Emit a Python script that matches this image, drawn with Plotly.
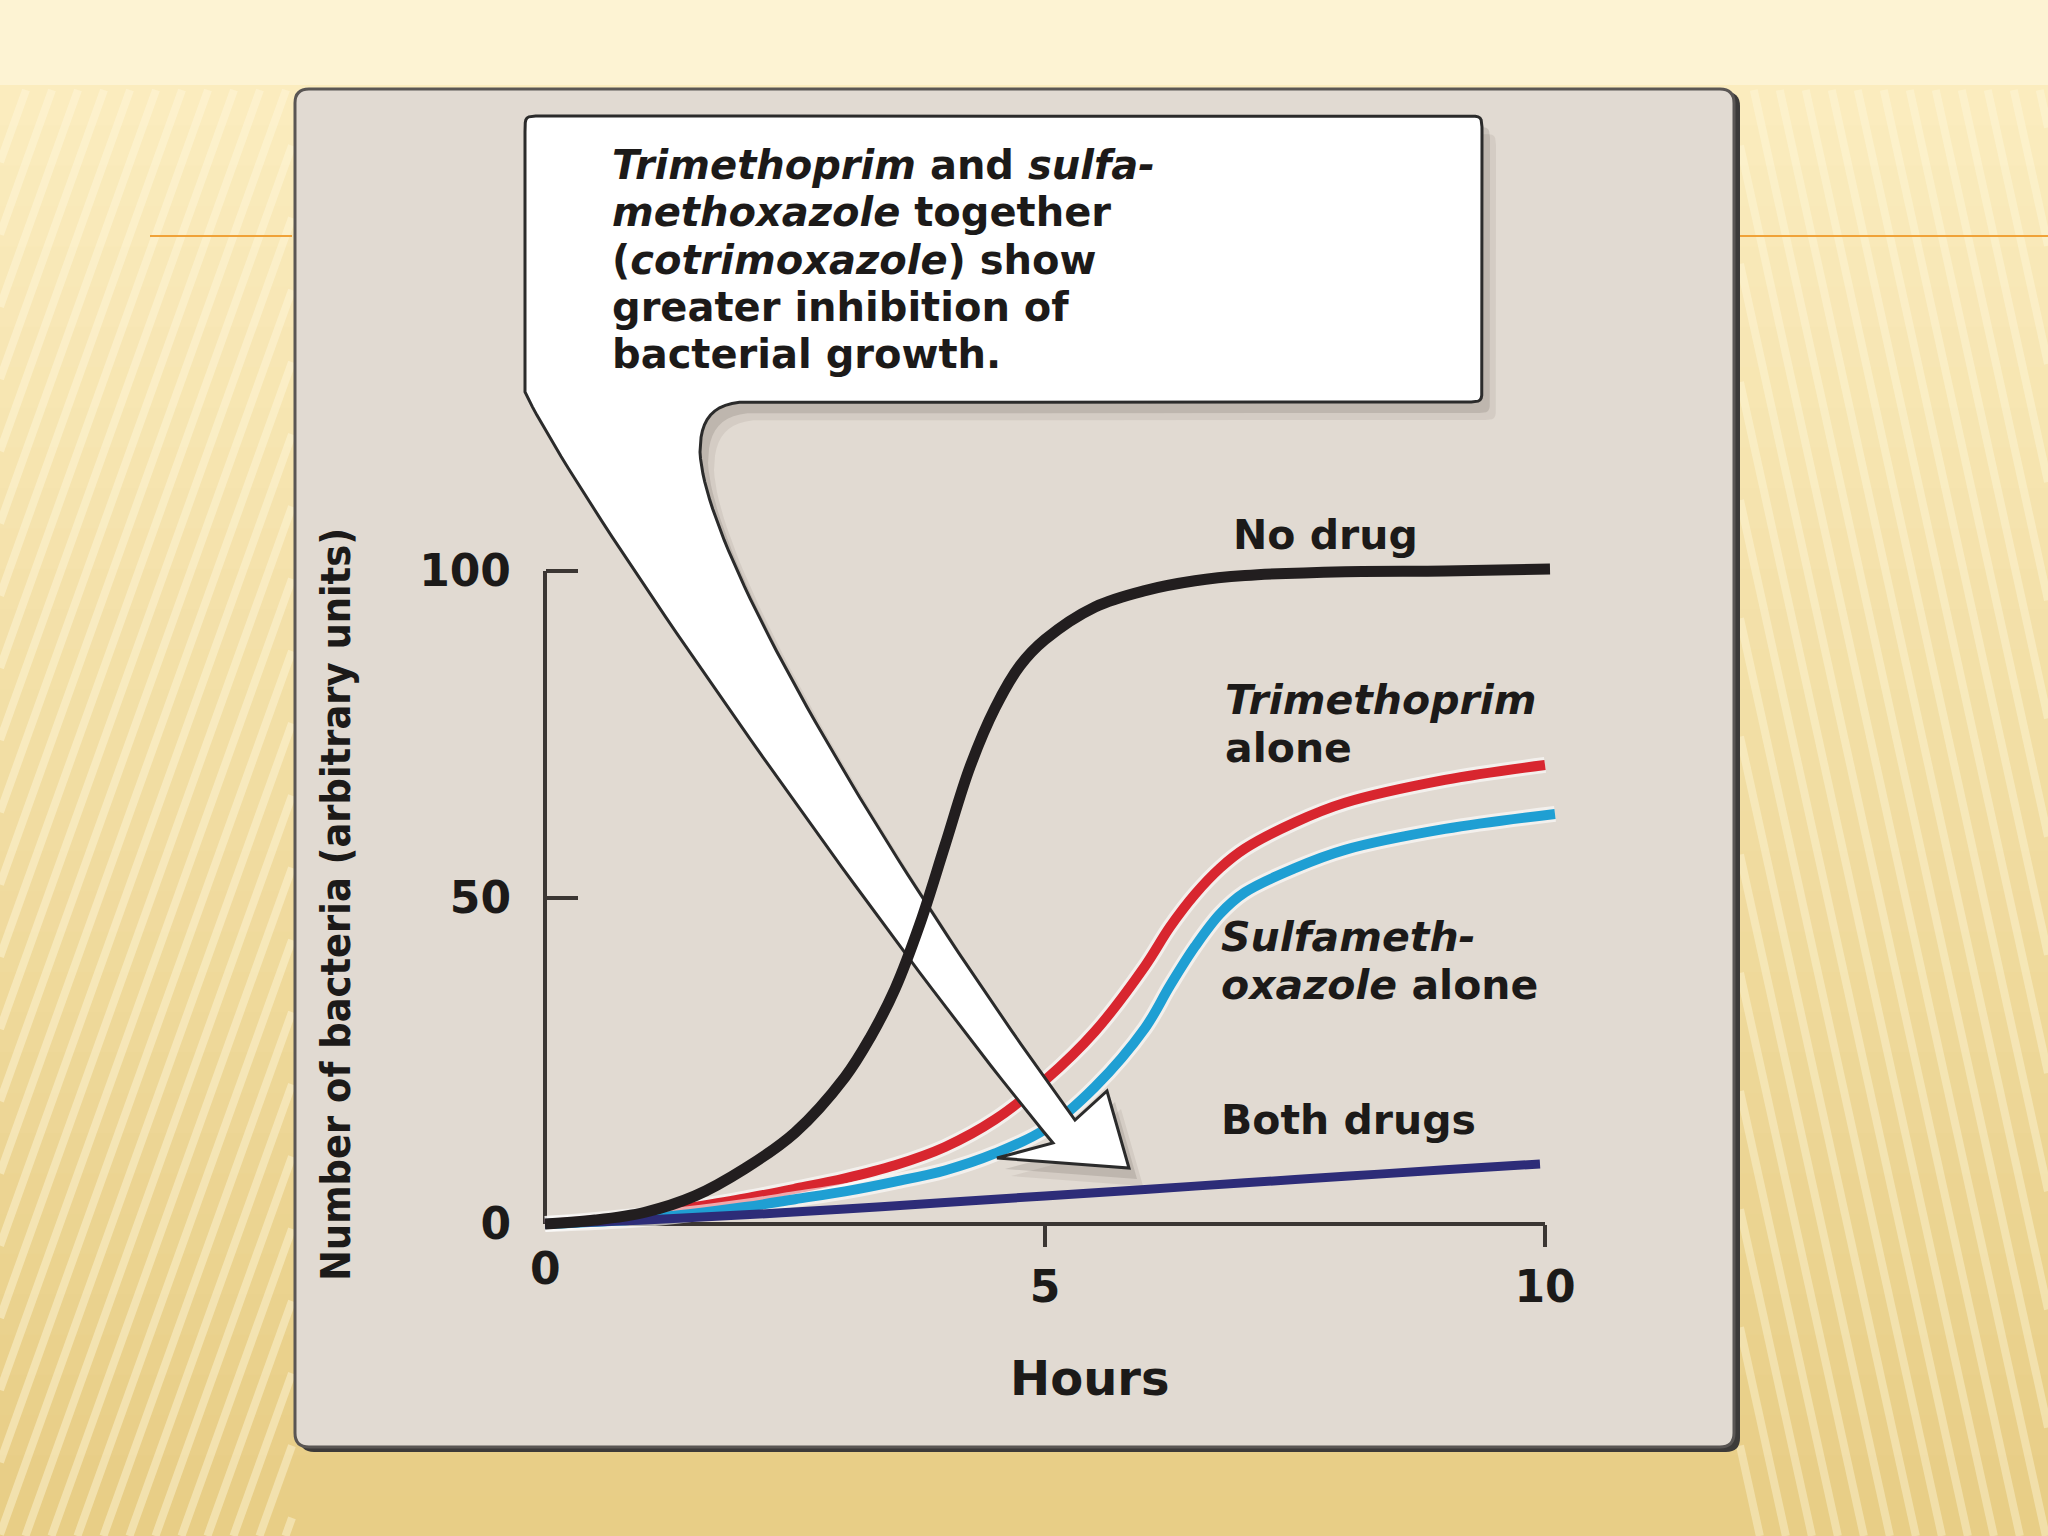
import plotly.graph_objects as go

# Canvas and pixel <-> data mapping of the figure panel
W, H = 2048, 1536
X0_PX, PX_PER_HOUR = 545, 100.0
Y0_PX, PX_PER_UNIT = 1224, 6.53

# Growth curves (hours, bacteria in arbitrary units)
hours_no_drug = [0, 0.5, 1, 1.5, 2, 2.5, 3, 3.25, 3.5, 3.75, 4, 4.25, 4.5, 4.75, 5, 5.5, 6, 6.5, 7, 8, 9, 10.05]
no_drug = [0, 0.6, 1.8, 4.3, 8.5, 14, 22.5, 28.5, 36, 46, 58, 70, 79, 85.5, 89.5, 94.5, 97, 98.5, 99.3, 99.9, 100, 100.3]

hours_trimethoprim = [0, 1, 1.5, 2, 2.5, 3, 3.5, 4, 4.5, 5, 5.5, 6, 6.25, 6.5, 6.75, 7, 7.5, 8, 9, 10.0]
trimethoprim = [0, 1.4, 2.6, 3.9, 5.4, 7.0, 9.0, 11.8, 16, 22, 29.5, 39.5, 45.5, 50.5, 54.5, 57.5, 61.5, 64.5, 68, 70.3]

hours_sulfa = [0, 1, 2, 2.5, 3, 3.5, 4, 4.5, 5, 5.5, 6, 6.25, 6.5, 6.75, 7, 7.5, 8, 9, 10.1]
sulfamethoxazole = [0, 0.8, 2.6, 3.8, 5.0, 6.5, 8.2, 10.8, 14.5, 21, 30, 36.5, 42.5, 47.5, 50.8, 54.5, 57.3, 60.5, 62.8]

hours_both = [0, 1, 2, 3, 4, 5, 6, 7, 8, 9, 9.95]
both_drugs = [0, 0.6, 1.4, 2.3, 3.3, 4.3, 5.3, 6.3, 7.3, 8.3, 9.2]

x_ticks = [5, 10]
y_ticks = [0, 50, 100]
y_tick_text = ["0", "50", "100"]

callout_lines = [
    "<i>Trimethoprim</i> and <i>sulfa-</i>",
    "<i>methoxazole</i> together",
    "(<i>cotrimoxazole</i>) show",
    "greater inhibition of",
    "bacterial growth.",
]
curve_labels = ["No drug", "<i>Trimethoprim</i>", "alone", "<i>Sulfameth-</i>", "<i>oxazole</i> alone", "Both drugs"]

FONT = "DejaVu Sans"
TEXT = "#1c1a19"
AXIS = "#3b3633"


def data_x(px):
    return (px - X0_PX) / PX_PER_HOUR


def data_y(py):
    return (Y0_PX - py) / PX_PER_UNIT


def px(x):
    return x / W


def py(y):
    return 1 - y / H


def bez(p0, p1, p2, p3, n=40):
    pts = []
    for i in range(n + 1):
        t = i / n
        a, b, c, d = (1 - t) ** 3, 3 * (1 - t) ** 2 * t, 3 * (1 - t) * t ** 2, t ** 3
        pts.append((a * p0[0] + b * p1[0] + c * p2[0] + d * p3[0],
                    a * p0[1] + b * p1[1] + c * p2[1] + d * p3[1]))
    return pts


def rounded_rect(x0, y0, x1, y1, r):
    p = lambda x, y: f"{px(x):.5f},{py(y):.5f}"
    return (f"M{p(x0 + r, y0)} L{p(x1 - r, y0)} Q{p(x1, y0)} {p(x1, y0 + r)} "
            f"L{p(x1, y1 - r)} Q{p(x1, y1)} {p(x1 - r, y1)} L{p(x0 + r, y1)} "
            f"Q{p(x0, y1)} {p(x0, y1 - r)} L{p(x0, y0 + r)} Q{p(x0, y0)} {p(x0 + r, y0)} Z")


def stripe_shapes(x_min, x_max, y_top, y_bot, k, spacing, direction, color, width):
    out = []
    span = (y_bot - y_top) * k
    c = x_min - span - spacing
    while c < x_max + span + spacing:
        t_a = (x_min - c) / (direction * span)
        t_b = (x_max - c) / (direction * span)
        lo, hi = max(0.0, min(t_a, t_b)), min(1.0, max(t_a, t_b))
        if hi > lo:
            xa, xb = c + direction * span * lo, c + direction * span * hi
            ya, yb = y_bot - (y_bot - y_top) * lo, y_bot - (y_bot - y_top) * hi
            out.append(dict(type="line", xref="paper", yref="paper",
                            x0=px(xa), y0=py(ya), x1=px(xb), y1=py(yb),
                            line=dict(color=color, width=width), layer="below"))
        c += spacing
    return out


shapes = []
# slide background
shapes.append(dict(type="rect", xref="paper", yref="paper", x0=0, x1=1, y0=0, y1=1,
                   fillcolor="#fdf3d3", line=dict(width=0), layer="below"))
n_bands = 36
top_c, bot_c = (251, 236, 190), (232, 206, 134)
for i in range(n_bands):
    f = i / (n_bands - 1)
    col = tuple(int(top_c[j] + (bot_c[j] - top_c[j]) * f) for j in range(3))
    y_a = 85 + (H - 85) * i / n_bands
    y_b = 85 + (H - 85) * (i + 1) / n_bands
    shapes.append(dict(type="rect", xref="paper", yref="paper", x0=0, x1=1,
                       y0=py(y_b) - 0.001, y1=py(y_a), fillcolor="rgb(%d,%d,%d)" % col,
                       line=dict(width=0), layer="below"))
shapes += stripe_shapes(0, 292, 90, H, 0.36, 26, 1, "rgba(255,249,222,0.45)", 8)
shapes += stripe_shapes(1740, W, 90, H, 0.22, 26, -1, "rgba(255,249,222,0.40)", 8)
# orange rule
for xa, xb in [(150, 292), (1738, W)]:
    shapes.append(dict(type="line", xref="paper", yref="paper", x0=px(xa), x1=px(xb),
                       y0=py(236), y1=py(236), line=dict(color="#f0a238", width=2), layer="below"))
# figure panel
shapes.append(dict(type="path", xref="paper", yref="paper", path=rounded_rect(300, 92, 1740, 1452, 14),
                   fillcolor="#3c3a39", line=dict(width=0), layer="below"))
shapes.append(dict(type="path", xref="paper", yref="paper", path=rounded_rect(295, 89, 1734, 1447, 14),
                   fillcolor="#e1dad2", line=dict(color="#5a5654", width=3), layer="below"))
# axis lines on the data scale
shapes.append(dict(type="line", xref="x", yref="y", x0=0, x1=0, y0=0, y1=100,
                   line=dict(color=AXIS, width=4), layer="below"))
shapes.append(dict(type="line", xref="x", yref="y", x0=0, x1=10, y0=0, y1=0,
                   line=dict(color=AXIS, width=4), layer="below"))

# callout balloon with its curved pointer (pixel outline)
outline = []
outline += bez((525, 132), (525, 116), (525, 116), (541, 116), 8)
outline += [(1466, 116)]
outline += bez((1466, 116), (1482, 116), (1482, 116), (1482, 132), 8)
outline += [(1482, 386)]
outline += bez((1482, 386), (1482, 402), (1482, 402), (1466, 402), 8)
outline += [(748, 402)]
outline += bez((748, 402), (712, 402), (700, 420), (700, 452), 12)
outline += bez((700, 452), (705, 560), (900, 880), (1075, 1120), 50)
outline += [(1107, 1091), (1129, 1168), (997, 1158), (1053, 1143)]
outline += bez((1053, 1143), (900, 960), (575, 500), (525, 392), 50)
outline += [(525, 132)]
call_x = [data_x(p[0]) for p in outline]
call_y = [data_y(p[1]) for p in outline]

fig = go.Figure()
spline = dict(shape="spline", smoothing=1.0)

# red / blue / navy sit under the pointer, black passes over it
fig.add_trace(go.Scatter(x=hours_trimethoprim, y=trimethoprim, mode="lines", zorder=0,
                         line=dict(color="rgba(255,255,255,0.6)", width=16, **spline),
                         hoverinfo="skip", showlegend=False))
fig.add_trace(go.Scatter(x=hours_trimethoprim, y=trimethoprim, mode="lines", name="Trimethoprim alone", zorder=0,
                         line=dict(color="#d8262f", width=10, **spline)))
fig.add_trace(go.Scatter(x=hours_sulfa, y=sulfamethoxazole, mode="lines", zorder=0,
                         line=dict(color="rgba(255,255,255,0.6)", width=16, **spline),
                         hoverinfo="skip", showlegend=False))
fig.add_trace(go.Scatter(x=hours_sulfa, y=sulfamethoxazole, mode="lines", name="Sulfamethoxazole alone", zorder=0,
                         line=dict(color="#1f9fd3", width=10, **spline)))
fig.add_trace(go.Scatter(x=hours_both, y=both_drugs, mode="lines", name="Both drugs", zorder=0,
                         line=dict(color="#2d2c78", width=9, **spline)))

for dx, dy, alpha in [(14, 18, 0.08), (8, 11, 0.14)]:
    fig.add_trace(go.Scatter(x=[v + dx / PX_PER_HOUR for v in call_x], y=[v - dy / PX_PER_UNIT for v in call_y],
                             mode="lines", fill="toself", fillcolor=f"rgba(60,50,40,{alpha})",
                             line=dict(width=0), hoverinfo="skip", showlegend=False, zorder=1))
fig.add_trace(go.Scatter(x=call_x, y=call_y, mode="lines", fill="toself", fillcolor="#ffffff",
                         line=dict(color="#2b2b2b", width=3), hoverinfo="skip", showlegend=False, zorder=2))

fig.add_trace(go.Scatter(x=hours_no_drug, y=no_drug, mode="lines", name="No drug", zorder=3,
                         line=dict(color="#221e1f", width=11, **spline)))

annotations = []
for i, line in enumerate(callout_lines):
    annotations.append(dict(xref="paper", yref="paper", x=px(610), y=py(165 + 47.3 * i),
                            xanchor="left", yanchor="middle", showarrow=False, text=line,
                            font=dict(family=FONT, size=40, color=TEXT, weight="bold")))
label_pos = [(1231, 535), (1223, 700), (1223, 748), (1219, 937), (1219, 985), (1219, 1120)]
for text, (lx, ly) in zip(curve_labels, label_pos):
    annotations.append(dict(xref="paper", yref="paper", x=px(lx), y=py(ly),
                            xanchor="left", yanchor="middle", showarrow=False, text=text,
                            font=dict(family=FONT, size=41, color=TEXT, weight="bold")))
annotations.append(dict(xref="paper", yref="paper", x=px(1090), y=py(1378), xanchor="center", yanchor="middle",
                        showarrow=False, text="Hours",
                        font=dict(family=FONT, size=48, color=TEXT, weight="bold")))
annotations.append(dict(xref="paper", yref="paper", x=px(336), y=py(905), xanchor="center", yanchor="middle",
                        showarrow=False, text="Number of bacteria (arbitrary units)", textangle=-90,
                        font=dict(family="DejaVu Sans Condensed, DejaVu Sans", size=41, color=TEXT,
                                  weight="bold")))
annotations.append(dict(xref="x", yref="paper", x=0, y=py(1268), xanchor="center", yanchor="middle",
                        showarrow=False, text="0",
                        font=dict(family=FONT, size=44, color=TEXT, weight="bold")))

fig.update_layout(
    width=W, height=H,
    margin=dict(l=0, r=0, t=0, b=0, pad=0),
    paper_bgcolor="#fdf3d3", plot_bgcolor="rgba(0,0,0,0)",
    showlegend=False, hovermode=False,
    shapes=shapes, annotations=annotations,
    xaxis=dict(domain=[0, 1], range=[data_x(0), data_x(W)], anchor="free", position=py(Y0_PX),
               showgrid=False, zeroline=False, showline=False, automargin=False,
               tickmode="array", tickvals=x_ticks, ticks="outside", ticklen=22, tickwidth=4,
               tickcolor=AXIS, ticklabelstandoff=2,
               tickfont=dict(family=FONT, size=44, color=TEXT, weight="bold")),
    yaxis=dict(domain=[0, 1], range=[data_y(H), data_y(0)], anchor="free", position=px(X0_PX),
               showgrid=False, zeroline=False, showline=False, automargin=False,
               tickmode="array", tickvals=y_ticks, ticktext=y_tick_text, ticks="inside", ticklen=32,
               tickwidth=4, tickcolor=AXIS, ticklabelstandoff=34,
               tickfont=dict(family=FONT, size=44, color=TEXT, weight="bold")),
)

fig.write_html("out.html", config={"displayModeBar": False},
               post_script="document.body.style.margin='0px';document.body.style.overflow='hidden';")
